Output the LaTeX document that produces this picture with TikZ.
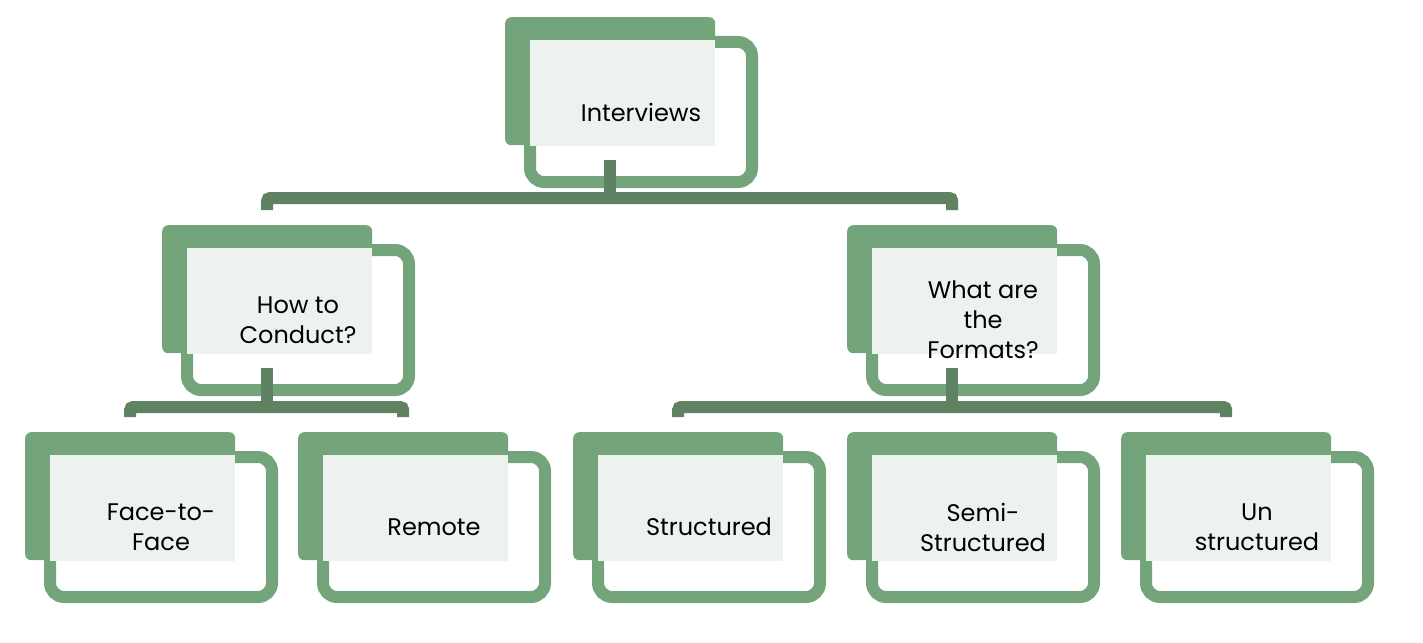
\documentclass[tikz,border=0pt]{standalone}
\usepackage{fontspec}
\setmainfont{Poppins}
\usetikzlibrary{positioning}
\definecolor{boxgreen}{HTML}{74A57A}
\definecolor{bargreen}{HTML}{5E8262}
\definecolor{boxlight}{HTML}{EEF2EF}
\newcommand{\orgbox}[4]{%
  \node[back] (#1-b) at (#2,#3) {};
  \node[frame] (#1) at (#2+19,#3+19) {};
  \fill[boxlight] (#2+25,#3+23) rectangle (#2+210,#3+129);
  \node[label] at (#1.center) {#4};
}
\begin{document}
\begin{tikzpicture}[x=1pt, y=-1pt,
    back/.style={anchor=north west, fill=boxgreen, rounded corners=6pt,
      minimum width=210pt, minimum height=128pt, inner sep=0pt},
    frame/.style={anchor=north west, draw=boxgreen, line width=12pt, fill=white,
      rounded corners=14pt, minimum width=222pt, minimum height=140pt, inner sep=0pt},
    label/.style={align=center, font=\fontsize{24}{30}\selectfont},
    conn/.style={draw=bargreen, line width=12pt, rounded corners=3pt}]
  \useasboundingbox (0,0) rectangle (1423,642);

  % tree
  \orgbox{interviews}{505}{17}{Interviews}
  \orgbox{conduct}{162}{225}{How to\\Conduct?}
  \orgbox{formats}{847}{225}{What are\\the\\Formats?}
  \orgbox{face}{25}{432}{Face-to-\\Face}
  \orgbox{remote}{298}{432}{Remote}
  \orgbox{structured}{573}{432}{Structured}
  \orgbox{semi}{847}{432}{Semi-\\Structured}
  \orgbox{unstructured}{1121}{432}{Un\\structured}

  % connectors
  \draw[conn] ([yshift=15pt]conduct-b.north) -- ++(0,-12) coordinate (bar1)
    -| ([yshift=15pt]formats-b.north);
  \draw[conn] ([yshift=-15pt]interviews-b.south) -- (interviews-b.south |- bar1);
  \draw[conn] ([yshift=15pt]face-b.north) -- ++(0,-10) coordinate (bar2)
    -| ([yshift=15pt]remote-b.north);
  \draw[conn] ([yshift=-15pt]conduct-b.south) -- (conduct-b.south |- bar2);
  \draw[conn] ([yshift=15pt]structured-b.north) -- ++(0,-10) coordinate (bar3)
    -| ([yshift=15pt]unstructured-b.north);
  \draw[conn] ([yshift=-15pt]formats-b.south) -- (formats-b.south |- bar3);
\end{tikzpicture}
\end{document}
